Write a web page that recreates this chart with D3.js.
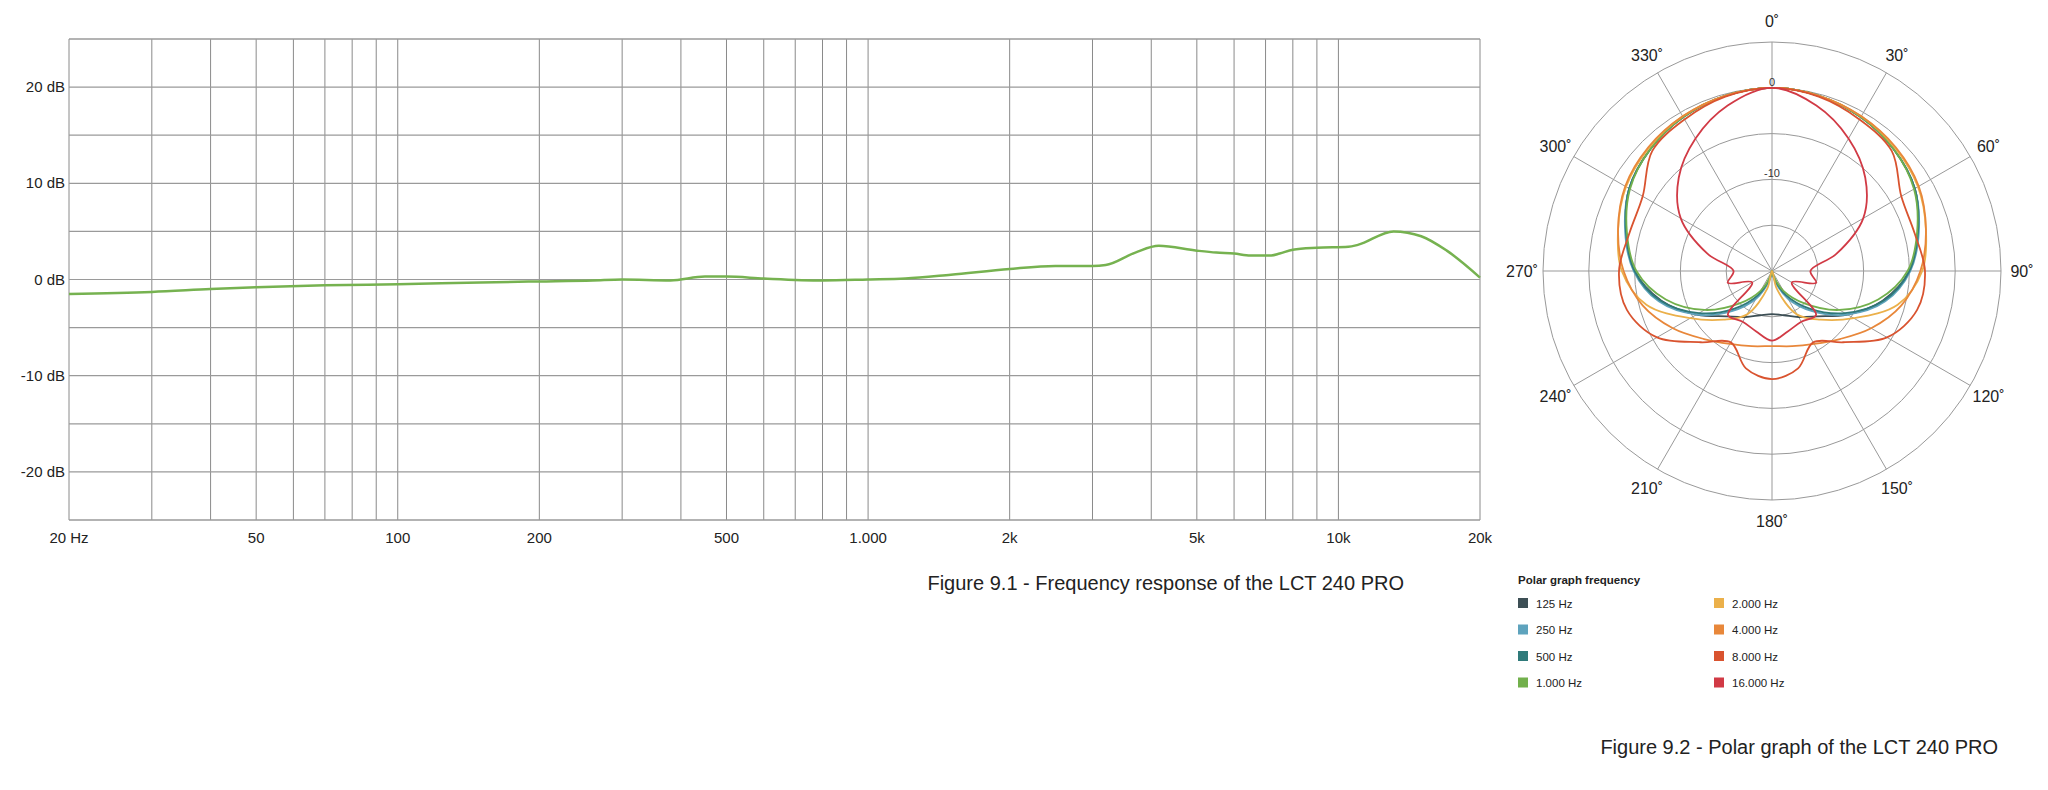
<!DOCTYPE html>
<html><head><meta charset="utf-8">
<script src="https://cdn.jsdelivr.net/npm/d3@7"></script>
<style>
body{margin:0;background:#fff;font-family:"Liberation Sans",Arial,sans-serif;}
</style></head>
<body>
<svg id="chart" width="2048" height="790"></svg>
<script>
// frequency response (Hz, dB)
const freqs = [20,30,40,50,70,100,150,200,260,300,380,450,500,600,800,1000,1200,1500,2000,2500,3000,3200,3700,4150,5000,5500,6000,6500,7200,7500,8000,9000,10500,11000,13100,15000,17000,20000];
const gains = [-1.5,-1.3,-1.0,-0.8,-0.6,-0.5,-0.3,-0.2,-0.1,0,-0.1,0.3,0.3,0.1,-0.1,0,0.1,0.5,1.1,1.4,1.4,1.5,2.8,3.5,3.0,2.8,2.7,2.5,2.5,2.7,3.1,3.3,3.4,3.6,5.0,4.5,3.0,0.2];
const yTicks = [20,10,0,-10,-20];
const xTickVals = [20,50,100,200,500,1000,2000,5000,10000,20000];
const xTickLabels = ['20 Hz','50','100','200','500','1.000','2k','5k','10k','20k'];

// polar data: angles 0..180 step 15, mirrored
const polarAngles = [0,15,30,45,60,75,90,105,120,135,150,165,180];
const polarNames = ['125 Hz','250 Hz','500 Hz','1.000 Hz','2.000 Hz','4.000 Hz','8.000 Hz','16.000 Hz'];
const polarColors = ['#3d4f55','#5ea3bd','#2f7a7a','#72b04c','#ebb04a','#e8873a','#d9532f','#d13a45'];
const polarValues = [
  [0,-0.2,-0.6,-1.2,-2.0,-3.5,-5.0,-7.5,-10.5,-13.0,-14.2,-15.0,-15.3],
  [0,-0.2,-0.6,-1.2,-2.0,-3.4,-4.9,-7.2,-10.5,-13.8,-16.5,-19.0,-20],
  [0,-0.2,-0.6,-1.2,-2.0,-3.5,-5.0,-7.4,-10.8,-14.2,-17.0,-19.3,-20],
  [0,-0.2,-0.6,-1.2,-2.1,-3.6,-5.2,-8.0,-11.5,-15.0,-17.5,-19.5,-20],
  [0,-0.2,-0.5,-1.0,-1.6,-2.6,-3.6,-5.8,-9.7,-12.5,-14.5,-18.0,-20],
  [0,-0.2,-0.5,-0.9,-1.5,-2.6,-3.8,-5.4,-7.5,-9.5,-10.8,-11.5,-11.8],
  [0,-0.3,-0.9,-1.5,-3.7,-3.9,-3.3,-3.6,-5.5,-9.0,-11.0,-9.0,-8.2],
  [0,-1.3,-3.3,-5.6,-8.5,-12.7,-15.8,-15.0,-17.5,-13.2,-13.6,-13.2,-12.4]
];

const svg = d3.select('#chart');

// ---- frequency response ----
const margin = {left: 69, right: 1480, top: 39, bottom: 520};
const x = d3.scaleLog().domain([20, 20000]).range([margin.left, margin.right]);
const y = d3.scaleLinear().domain([-25, 25]).range([margin.bottom, margin.top]);

const fr = svg.append('g');
const minor = [];
[10,100,1000,10000].forEach(dec => { for (let k = 1; k < 10; k++) { const f = dec*k; if (f >= 20 && f <= 20000) minor.push(f); } });
fr.selectAll('.vx').data(minor).enter().append('line')
  .attr('x1', d => x(d)).attr('x2', d => x(d))
  .attr('y1', margin.top).attr('y2', margin.bottom)
  .attr('stroke', '#8a8a8a').attr('stroke-width', 1);
fr.selectAll('.hy').data(d3.range(-25, 26, 5)).enter().append('line')
  .attr('x1', margin.left).attr('x2', margin.right)
  .attr('y1', d => y(d)).attr('y2', d => y(d))
  .attr('stroke', '#9a9a9a').attr('stroke-width', d => Math.abs(d) === 25 ? 1.6 : 1.2);

fr.selectAll('.yl').data(yTicks).enter().append('text')
  .attr('x', margin.left - 4).attr('y', d => y(d) + 5)
  .attr('text-anchor', 'end').attr('font-size', 15).attr('fill', '#222')
  .text(d => d + ' dB');
fr.selectAll('.xl').data(xTickVals).enter().append('text')
  .attr('x', (d, i) => x(d) + (i === 0 ? 0 : 0)).attr('y', 543)
  .attr('text-anchor', (d, i) => i === 0 ? 'middle' : 'middle')
  .attr('font-size', 15).attr('fill', '#222')
  .text((d, i) => xTickLabels[i]);

fr.append('path')
  .datum(freqs.map((f, i) => [f, gains[i]]))
  .attr('fill', 'none').attr('stroke', '#76b250').attr('stroke-width', 2.5)
  .attr('d', d3.line().x(d => x(d[0])).y(d => y(d[1])).curve(d3.curveMonotoneX));

svg.append('text').attr('x', 1404).attr('y', 590).attr('text-anchor', 'end')
  .attr('font-size', 20).attr('fill', '#222')
  .text('Figure 9.1 - Frequency response of the LCT 240 PRO');

// ---- polar ----
const cx = 1772, cy = 271, R = 229;
const r = d3.scaleLinear().domain([-20, 5]).range([0, R]);
const pg = svg.append('g').attr('transform', `translate(${cx},${cy})`);
pg.selectAll('.ring').data([5,0,-5,-10,-15]).enter().append('circle')
  .attr('r', d => r(d)).attr('fill', 'none').attr('stroke', '#999').attr('stroke-width', 1);
pg.selectAll('.spoke').data(d3.range(0, 360, 30)).enter().append('line')
  .attr('x1', 0).attr('y1', 0)
  .attr('x2', d => R * Math.sin(d * Math.PI / 180))
  .attr('y2', d => -R * Math.cos(d * Math.PI / 180))
  .attr('stroke', '#999').attr('stroke-width', 1);
pg.selectAll('.al').data(d3.range(0, 360, 30)).enter().append('text')
  .attr('x', d => 250 * Math.sin(d * Math.PI / 180))
  .attr('y', d => -250 * Math.cos(d * Math.PI / 180) + 6)
  .attr('text-anchor', 'middle').attr('font-size', 16).attr('fill', '#222')
  .text(d => d + '˚');
pg.selectAll('.rl').data([0, -10]).enter().append('text')
  .attr('x', 0).attr('y', d => -r(d) - 2)
  .attr('text-anchor', 'middle').attr('font-size', 11).attr('fill', '#333')
  .text(d => d);

const radial = d3.lineRadial().angle(d => d[0] * Math.PI / 180).radius(d => r(d[1]))
  .curve(d3.curveCatmullRomClosed.alpha(0.5));
polarValues.forEach((vals, s) => {
  const pts = polarAngles.map((a, i) => [a, vals[i]]);
  const back = polarAngles.slice(1, -1).reverse().map(a => [360 - a, vals[polarAngles.indexOf(a)]]);
  pg.append('path').datum(pts.concat(back))
    .attr('fill', 'none').attr('stroke', polarColors[s]).attr('stroke-width', 1.8)
    .attr('d', radial);
});

// legend
const lg = svg.append('g');
lg.append('text').attr('x', 1518).attr('y', 584).attr('font-size', 11.5)
  .attr('font-weight', 'bold').attr('fill', '#222').text('Polar graph frequency');
polarNames.forEach((n, i) => {
  const lx = i < 4 ? 1518 : 1714, ly = 603 + (i % 4) * 26.5;
  lg.append('rect').attr('x', lx).attr('y', ly - 5).attr('width', 10).attr('height', 10).attr('fill', polarColors[i]);
  lg.append('text').attr('x', lx + 18).attr('y', ly + 4.5).attr('font-size', 11.5).attr('fill', '#222').text(n);
});

svg.append('text').attr('x', 1998).attr('y', 754).attr('text-anchor', 'end')
  .attr('font-size', 20).attr('fill', '#222')
  .text('Figure 9.2 - Polar graph of the LCT 240 PRO');
</script>
</body></html>
